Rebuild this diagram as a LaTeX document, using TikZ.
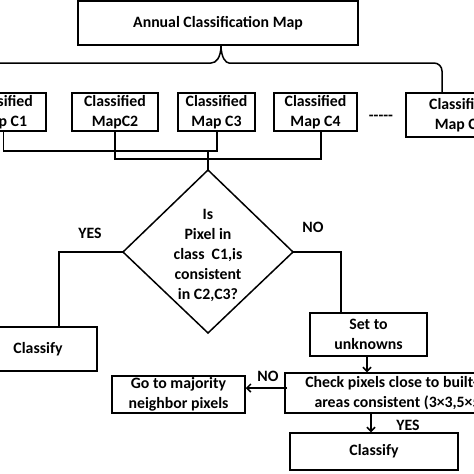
\documentclass[tikz,border=0pt]{standalone}
\usepackage{fontspec}
\setmainfont{Carlito}
\usetikzlibrary{arrows.meta}
\tikzset{
  box/.style={draw, line width=1.5pt, inner sep=0pt, align=center, font=\bfseries\fontsize{15.8}{20}\selectfont},
  lbl/.style={inner sep=0pt, font=\bfseries\fontsize{15.8}{18}\selectfont},
  conn/.style={line width=1.5pt},
  arr/.style={line width=1.5pt, -{Straight Barb[length=4pt,width=8pt,line width=1.5pt]}}
}
\begin{document}
\begin{tikzpicture}[x=1pt,y=-1pt]
\useasboundingbox (0,0) rectangle (474,474);
\clip (0,0) rectangle (474,474);
\fill[white] (0,0) rectangle (474,474);
% boxes
\node[box, minimum width=280pt, minimum height=44pt] (top) at (218,23) {Annual Classification Map};
\node[box, minimum width=88pt, minimum height=38pt] (c1) at (2,112) {Classified\\Map C1};
\node[box, minimum width=86pt, minimum height=38pt] (c2) at (115,112) {Classified\\MapC2};
\node[box, minimum width=77pt, minimum height=38pt] (c3) at (216.5,112) {Classified\\Map C3};
\node[box, minimum width=83pt, minimum height=38pt] (c4) at (315.5,112) {Classified\\Map C4};
\node[box, minimum width=108pt, minimum height=44pt] (cn) at (460,115) {Classified\\Map Cn};
\node[lbl] (dots) at (381,118) {-{}-{}-{}-{}-};
% diamond
\coordinate (dT) at (208,170);
\coordinate (dL) at (123,252);
\coordinate (dR) at (293,252);
\coordinate (dB) at (208,333);
\draw[conn, line join=miter] (dT) -- (dR) -- (dB) -- (dL) -- cycle;
\node[align=center, inner sep=0pt, font=\bfseries\fontsize{15.8}{20}\selectfont] (q) at (208,255) {Is\\Pixel in\\class\ \ C1,is\\consistent\\in C2,C3?};
\node[box, minimum width=118pt, minimum height=44pt] (cl) at (38,349) {Classify};
\node[box, minimum width=117pt, minimum height=43pt] (set) at (368.5,334.5) {Set to\\unknowns};
\node[box, minimum width=230pt, minimum height=40pt] (check) at (400,393) {Check pixels close to built-up\\areas consistent (3×3,5×5)};
\node[box, minimum width=133pt, minimum height=37pt] (go) at (178.5,394.5) {Go to majority\\neighbor pixels};
\node[box, minimum width=168pt, minimum height=37pt] (cl2) at (374,451.5) {Classify};
% labels
\node[lbl] (yes1) at (90,233) {YES};
\node[lbl] (no1) at (313,227) {NO};
\node[lbl] (no2) at (268,376) {NO};
\node[lbl] (yes2) at (408,425) {YES};
% brace connector from top box
\coordinate (bt) at (221,45);
\draw[conn, rounded corners=6pt] (bt) .. controls (221,58) and (216,63) .. (205,63) -- (-10,63) -- (-10,93);
\draw[conn, rounded corners=8pt] (bt) .. controls (221,58) and (226,63) .. (237,63) -- (442,63) -- (442,93);
% lower connectors
\draw[conn] (c1.south -| 3.5,0) -- (3.5,151) -- (217,151) -- (c3.south -| 217,0);
\draw[conn] (c2.south) -- (115,159) -- (321,159) -- (c4.south -| 321,0);
\draw[conn] (208,151) -- (dT);
% decision branches
\draw[conn] (dL) -- (59,252) -- (cl.north -| 59,0);
\draw[conn] (dR) -- (341,252) -- (set.north -| 341,0);
\draw[arr] (set.south -| 367,0) -- (check.north -| 367,0);
\draw[arr] (287,388) -- (go.east |- 0,388);
\draw[arr] (check.south -| 371,0) -- (cl2.north -| 371,0);
\end{tikzpicture}
\end{document}
